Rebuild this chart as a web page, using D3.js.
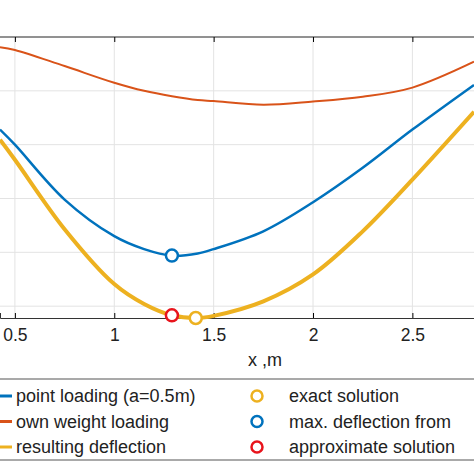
<!DOCTYPE html>
<html><head><meta charset="utf-8">
<script src="https://cdn.jsdelivr.net/npm/d3@7"></script>
<style>body{margin:0;background:#fff}svg{font-family:"Liberation Sans",Arial,sans-serif}</style>
</head><body><svg id="c" width="474" height="474"></svg>
<script>
const xs = [0.425, 0.5, 0.75, 1, 1.15, 1.29, 1.42, 1.5, 1.75, 2, 2.25, 2.5, 2.81];
const ownWeight = [-0.19, -0.24, -0.54, -0.85, -1.0, -1.1, -1.17, -1.19, -1.26, -1.2, -1.11, -0.94, -0.46];
const pointLoad = [-1.72, -2.0, -3.02, -3.7, -3.94, -4.06, -4.02, -3.94, -3.61, -3.07, -2.43, -1.72, -0.89];
const resulting = [-1.91, -2.28, -3.57, -4.59, -4.96, -5.17, -5.22, -5.18, -4.91, -4.41, -3.61, -2.65, -1.39];
const markers = [
  {x: 1.41, y: -5.22, c: "#EDB120"},
  {x: 1.29, y: -4.06, c: "#0072BD"},
  {x: 1.29, y: -5.17, c: "#E8141C"}
];
const xTicks = [0.5, 1, 1.5, 2, 2.5];
const yGrid = [0, -1, -2, -3, -4, -5];
const legendLines = [["point loading (a=0.5m)", "#0072BD"], ["own weight loading", "#D95319"], ["resulting deflection", "#EDB120"]];
const legendMarks = [["exact solution", "#EDB120"], ["max. deflection from", "#0072BD"], ["approximate solution", "#E8141C"]];

const svg = d3.select("#c");
const x = d3.scaleLinear().domain([0.425, 2.81]).range([0, 474]);
const y = d3.scaleLinear().domain([0, -5.22]).range([37, 318]);

// grid
svg.append("g").selectAll("line").data(xTicks).join("line")
  .attr("x1", d => x(d)).attr("x2", d => x(d)).attr("y1", 37).attr("y2", 318)
  .attr("stroke", "#e3e3e3");
svg.append("g").selectAll("line").data(yGrid).join("line")
  .attr("x1", 0).attr("x2", 474).attr("y1", d => y(d)).attr("y2", d => y(d))
  .attr("stroke", "#e3e3e3");
svg.append("line").attr("x1", 0).attr("x2", 474).attr("y1", 37).attr("y2", 37).attr("stroke", "#333");
svg.append("g").attr("transform", "translate(0,318)")
  .call(d3.axisBottom(x).tickValues(xTicks).tickSize(-5).tickPadding(11).tickFormat(d3.format("")))
  .call(g => g.select(".domain").attr("stroke", "#333"))
  .call(g => g.selectAll("text").attr("font-size", 17.5).attr("fill", "#222"));
svg.append("g").attr("transform", "translate(0,37)")
  .call(d3.axisTop(x).tickValues(xTicks).tickSize(-5).tickFormat(""))
  .call(g => g.select(".domain").remove());
svg.append("text").attr("x", 265).attr("y", 366).attr("text-anchor", "middle")
  .attr("font-size", 18).attr("fill", "#222").text("x ,m");

const line = d3.line().x((d, i) => x(xs[i])).y(d => y(d)).curve(d3.curveCatmullRom);
[[ownWeight, "#D95319", 2], [pointLoad, "#0072BD", 2.5], [resulting, "#EDB120", 4]].forEach(([s, c, w]) => {
  svg.append("path").datum(s).attr("d", line).attr("fill", "none").attr("stroke", c).attr("stroke-width", w);
});
svg.append("g").selectAll("circle").data(markers).join("circle")
  .attr("cx", d => x(d.x)).attr("cy", d => y(d.y)).attr("r", 6)
  .attr("fill", "#fff").attr("stroke", d => d.c).attr("stroke-width", 2.5);

// legend
svg.append("rect").attr("x", -2).attr("y", 379).attr("width", 480).attr("height", 81)
  .attr("fill", "#fff").attr("stroke", "#555");
legendLines.forEach(([t, c], i) => {
  const yy = 396 + i * 25.5;
  svg.append("line").attr("x1", 0).attr("x2", 12).attr("y1", yy).attr("y2", yy).attr("stroke", c).attr("stroke-width", 3);
  svg.append("text").attr("x", 16).attr("y", yy + 6).attr("font-size", 18).attr("fill", "#222").text(t);
});
legendMarks.forEach(([t, c], i) => {
  const yy = 396 + i * 25.5;
  svg.append("circle").attr("cx", 257).attr("cy", yy).attr("r", 5.5).attr("fill", "#fff").attr("stroke", c).attr("stroke-width", 2.5);
  svg.append("text").attr("x", 289).attr("y", yy + 6).attr("font-size", 18).attr("fill", "#222").text(t);
});
</script></body></html>
